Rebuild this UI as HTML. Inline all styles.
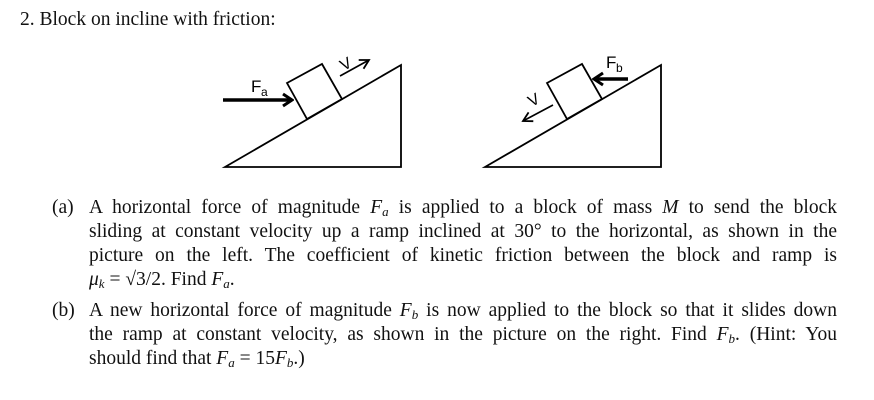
<!DOCTYPE html>
<html><head><meta charset="utf-8"><style>
body{margin:0;width:874px;height:400px;background:#fff;position:relative;overflow:hidden;font-family:"Liberation Serif",serif;font-size:19.5px;color:#111}
.l{position:absolute;left:89px;width:748px;white-space:nowrap;line-height:22px}
.j{text-align:justify;text-align-last:justify}
.p{position:absolute;left:52px;line-height:22px}
i{font-style:italic}
sub{font-size:13px;vertical-align:-3px;line-height:0}
</style></head><body>
<div style="position:absolute;left:20px;top:9px;line-height:22px">2. Block on incline with friction:</div>
<svg width="874" height="400" style="position:absolute;left:0;top:0" font-family="Liberation Sans, sans-serif">
<defs><marker id="a" markerWidth="12" markerHeight="12" refX="10" refY="6" orient="auto" markerUnits="userSpaceOnUse"><path d="M1,1 L10,6 L1,11" fill="none" stroke="#000" stroke-width="1.8"/></marker>
<marker id="b" markerWidth="12" markerHeight="16" refX="10" refY="8" orient="auto" markerUnits="userSpaceOnUse"><path d="M1,2 L10,8 L1,14" fill="none" stroke="#000" stroke-width="3"/></marker></defs>
<g fill="none" stroke="#000" stroke-width="1.8">
<polygon points="225,167 401,65 401,167"/>
<polygon points="287,83 322,64 342,99 307,119"/>
<line x1="340" y1="76" x2="369" y2="60" marker-end="url(#a)" stroke-width="1.6"/>
<line x1="223" y1="100" x2="292" y2="100" stroke-width="3.5" marker-end="url(#b)"/>
<polygon points="485,167 661,65 661,167"/>
<polygon points="547,83 582,64 602,99 567,119"/>
<line x1="628" y1="79" x2="594" y2="79" stroke-width="3.5" marker-end="url(#b)"/>
<line x1="553" y1="105" x2="523" y2="121" stroke-width="1.6" marker-end="url(#a)"/>
</g>
<text x="251" y="92" font-size="17">F</text><text x="261" y="96" font-size="12">a</text>
<text x="606" y="68" font-size="17">F</text><text x="616" y="72" font-size="12">b</text>
<text x="340" y="69" font-size="16" transform="rotate(-28 346 63)">V</text>
<text x="528" y="105" font-size="16" transform="rotate(-28 534 99)">V</text>
</svg>
<div class="p" style="top:197px">(a)</div>
<div class="l j" style="top:197px">A horizontal force of magnitude <i>F<sub>a</sub></i> is applied to a block of mass <i>M</i> to send the block</div>
<div class="l j" style="top:221px">sliding at constant velocity up a ramp inclined at 30° to the horizontal, as shown in the</div>
<div class="l j" style="top:245px">picture on the left. The coefficient of kinetic friction between the block and ramp is</div>
<div class="l" style="top:269px"><i>μ<sub>k</sub></i> = √3/2. Find <i>F<sub>a</sub></i>.</div>
<div class="p" style="top:300px">(b)</div>
<div class="l j" style="top:300px">A new horizontal force of magnitude <i>F<sub>b</sub></i> is now applied to the block so that it slides down</div>
<div class="l j" style="top:324px">the ramp at constant velocity, as shown in the picture on the right. Find <i>F<sub>b</sub></i>. (Hint: You</div>
<div class="l" style="top:348px">should find that <i>F<sub>a</sub></i> = 15<i>F<sub>b</sub></i>.)</div>
</body></html>
